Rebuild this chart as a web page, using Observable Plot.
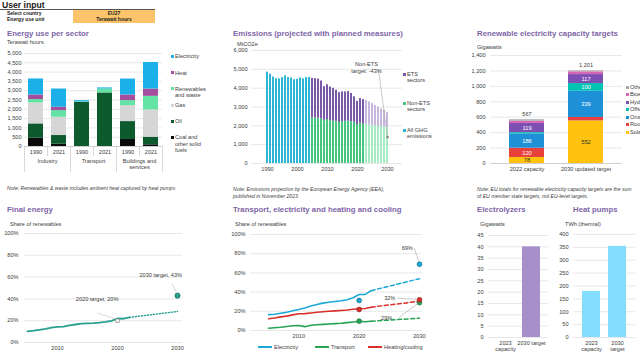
<!DOCTYPE html>
<html><head><meta charset="utf-8">
<script src="https://cdn.jsdelivr.net/npm/d3@7"></script>
<script src="https://cdn.jsdelivr.net/npm/@observablehq/plot@0.6"></script>
<style>
html,body{margin:0;padding:0;background:#fff;}
#root{position:relative;width:640px;height:360px;overflow:hidden;font-family:'Liberation Sans',Arial,Helvetica,sans-serif;color:#404040;}
.abs{position:absolute;white-space:pre;line-height:1.2;}
.sw{position:absolute;width:3px;height:3px;}
</style></head><body><div id="root"></div>
<script>
// ---------------- DATA ----------------
// User input
const inputCountry = "EU27";
const inputUnit = "Terawatt hours";

// Energy use per sector (TWh)
const energySectors = ["Industry", "Transport", "Buildings and services"];
const energyYears = ["1990", "2021"];
const fuelTypes = ["Coal and other solid fuels", "Oil", "Gas", "Renewables and waste", "Heat", "Electricity"];
const fuelColors = ["#0a0a0a", "#0c5a2e", "#d6d6d6", "#63e3a3", "#a44f9e", "#1cb0e8"];
const industry1990 = [446, 770, 1125, 180, 250, 860];
const industry2021 = [125, 465, 980, 360, 180, 980];
const transport1990 = [0, 2375, 0, 20, 0, 70];
const transport2021 = [0, 2880, 0, 210, 0, 60];
const buildings1990 = [375, 965, 857, 268, 305, 857];
const buildings2021 = [90, 410, 1466, 731, 393, 1428];
const energyTicks = [0, 500, 1000, 1500, 2000, 2500, 3000, 3500, 4000, 4500, 5000];

// Emissions (MtCO2e)
const emissionYears = [1990,1991,1992,1993,1994,1995,1996,1997,1998,1999,2000,2001,2002,2003,2004,2005,2006,2007,2008,2009,2010,2011,2012,2013,2014,2015,2016,2017,2018,2019,2020,2021,2022,2023,2024,2025,2026,2027,2028,2029,2030];
const emissionTotal = [4850,4740,4590,4500,4490,4560,4650,4560,4540,4450,4470,4530,4490,4560,4570,4520,4510,4480,4380,4080,4180,4060,3990,3890,3760,3800,3800,3820,3720,3540,3300,3450,3390,3350,3270,3180,3080,2990,2900,2830,2720];
const nonEtsFirstYear = 2005;
const projectedFirstYear = 2023;
const nonEts = [2420,2410,2400,2380,2300,2330,2280,2250,2240,2180,2220,2240,2250,2220,2190,2070,2140,2090,2060,2040,2020,2000,1980,1960,1950,1930];
const emissionCats = ["All GHG emissions", "Non-ETS sectors", "ETS sectors", "Non-ETS sectors (projected)", "ETS sectors (projected)"];
const emissionColors = ["#2cb5d4", "#44c680", "#7a5aa7", "#a7ebc2", "#c6b7df"];
const emissionTicks = [0, 1000, 2000, 3000, 4000, 5000, 6000];
const emissionYearTicks = [1990, 2000, 2010, 2020, 2030];
const nonEtsTarget = {year: 2030, value: 1400, label: "Non-ETS\ntarget: -43%", labelYear: 2023, labelValue: 5120, leaderYear: 2027, leaderValue: 4950};
const emissionLegend = [{label: "ETS\nsectors", color: "#7a5aa7"}, {label: "Non-ETS\nsectors", color: "#44c680"}, {label: "All GHG\nemissions", color: "#2cb5d4"}];

// Renewable electricity capacity targets (GW)
const capacityBars = ["2022 capacity", "2030 updated target"];
const techTypes = ["Solar", "Rooftop solar", "Onshore wind", "Offshore wind", "Hydropower", "Bioenergy", "Other"];
const techColors = ["#ffc30f", "#e8403a", "#1e90d8", "#00c3b3", "#7d4fb3", "#d667b8", "#a8a8a8"];
const techDarkLabel = [true, false, false, false, false, false, false];
const capacity2022 = [78, 120, 186, 16, 119, 30, 18];
const capacity2030 = [552, 45, 339, 100, 117, 35, 13];
const capacityTotals = [567, 1201];
const capacityTicks = [0, 200, 400, 600, 800, 1000, 1200, 1400];
const capacityLabelMin = 60;

// Final energy, share of renewables (%)
const finalYears = [2005,2006,2007,2008,2009,2010,2011,2012,2013,2014,2015,2016,2017,2018,2019,2020,2021,2022];
const finalShare = [10.2,10.8,11.6,12.4,13.6,14.3,14.5,15.7,16.5,17.3,17.6,17.8,18.2,18.9,19.8,22.0,21.8,23.0];
const finalProjYears = [2022, 2030];
const finalProjShare = [23.0, 28.5];
const finalTargets = [{year: 2020, value: 20, label: "2020 target, 20%"}, {year: 2030, value: 43, label: "2030 target, 43%"}];
const pctTicks = [0, 20, 40, 60, 80, 100];

// Transport, electricity, heating and cooling (%)
const sectorSeries = ["Electricity", "Transport", "Heating/cooling"];
const sectorColors = ["#1ca8d7", "#27a354", "#d8302b"];
const sectorDark = ["#0f6f90", "#17703a", "#8f1d1a"];
const shareYears = [2005,2006,2007,2008,2009,2010,2011,2012,2013,2014,2015,2016,2017,2018,2019,2020,2021,2022];
const shareElectricity = [16.5,17.0,18.0,19.0,20.5,21.9,23.5,25.5,27.0,28.5,29.5,30.2,31.0,32.0,34.2,37.5,37.6,41.5];
const shareTransport = [2.4,2.9,3.4,4.2,5.0,5.2,4.0,5.5,6.0,6.4,6.8,7.2,7.5,8.2,8.9,9.7,9.1,9.7];
const shareHeating = [12.2,13.0,14.2,15.0,16.3,17.4,17.6,18.3,19.0,19.6,20.0,20.4,20.8,21.3,22.1,22.6,22.9,24.3];
const shareProjYears = [2022, 2030];
const projElectricity = [41.5, 54.0];
const projTransport = [9.7, 12.8];
const projHeating = [24.3, 30.5];
const shareTargets2020 = [31.3, 9.7, 21.9];
const shareTargets2030 = [69, 29, 32];
const shareTargetLabels = [
  {label: "69%", x: 2028.9, y: 86, x1: 2029.1, y1: 86, x2: 2029.9, y2: 72},
  {label: "32%", x: 2026.0, y: 33.5, x1: 2026.3, y1: 33.5, x2: 2029.5, y2: 32.6},
  {label: "29%", x: 2025.5, y: 12.5, x1: 2026.6, y1: 13.5, x2: 2029.6, y2: 27.5}
];

// Electrolyzers (GW) and heat pumps (TWh thermal)
const electrolyzerBars = ["2023\ncapacity", "2030 target"];
const electrolyzerValues = [0, 40];
const electrolyzerTicks = [0, 5, 10, 15, 20, 25, 30, 35, 40, 45];
const heatPumpBars = ["2023\ncapacity", "2030\ntarget"];
const heatPumpValues = [179, 354];
const heatPumpTicks = [0, 50, 100, 150, 200, 250, 300, 350, 400];

// ---------------- HELPERS ----------------
const root = document.getElementById("root");
const FONT = "'Liberation Sans', Arial, Helvetica, sans-serif";
const TXT = "#404040";
const GRID = "#d9d9d9";
const TITLE = "#7e65a8";

function txt(content, x, yc, fs, extra = {}) {
  const d = document.createElement("div");
  d.className = "abs";
  d.style.left = x + "px";
  d.style.top = (yc - fs * 0.6) + "px";
  d.style.fontSize = fs + "px";
  Object.assign(d.style, extra);
  d.textContent = content;
  root.appendChild(d);
  return d;
}
function title(t, x, yc) { return txt(t, x, yc, 7.8, {color: TITLE, fontWeight: "bold"}); }
function sub(t, x, yc) { return txt(t, x, yc, 5.6, {color: TXT}); }
function note(t, x, yc) { return txt(t, x, yc, 5.1, {color: TXT, fontStyle: "italic", lineHeight: "7px"}); }
function swatch(x, yc, color, w = 3, h = 3) {
  const d = document.createElement("div");
  d.className = "sw";
  d.style.left = x + "px"; d.style.top = (yc - h / 2) + "px";
  d.style.width = w + "px"; d.style.height = h + "px";
  d.style.background = color;
  root.appendChild(d);
}
function chart(opts, x, y) {
  const svg = Plot.plot({
    ...opts,
    style: {fontFamily: FONT, fontSize: "5.6px", color: TXT, background: "transparent", overflow: "visible"}
  });
  svg.style.position = "absolute";
  svg.style.left = x + "px";
  svg.style.top = y + "px";
  root.appendChild(svg);
  return svg;
}
const grid = ticks => Plot.gridY(ticks, {stroke: GRID, strokeOpacity: 1, strokeWidth: 0.6});

// ---------------- USER INPUT ----------------
txt("User input", 2, 5.5, 8.6, {fontWeight: "bold", color: "#1a1a1a"});
(() => { const d = document.createElement("div"); Object.assign(d.style, {position: "absolute", left: "0px", top: "9px", width: "155px", height: "1.3px", background: "#555"}); root.appendChild(d); })();
(() => { const d = document.createElement("div"); Object.assign(d.style, {position: "absolute", left: "73px", top: "10.3px", width: "82px", height: "12.7px", background: "#fbc46b"}); root.appendChild(d); })();
txt("Select country", 7, 13.3, 5, {fontWeight: "bold", color: "#222"});
txt("Energy use unit", 7, 19.3, 5, {fontWeight: "bold", color: "#222"});
txt(inputCountry, 73, 13.3, 5, {fontWeight: "bold", color: "#222", width: "82px", textAlign: "center"});
txt(inputUnit, 73, 19.3, 5, {fontWeight: "bold", color: "#222", width: "82px", textAlign: "center"});

// ---------------- ENERGY USE PER SECTOR ----------------
title("Energy use per sector", 7, 34);
sub("Terawatt hours", 7, 42.5);
{
  const keys = [];
  energySectors.forEach(s => energyYears.forEach(y => keys.push(s + "|" + y)));
  const bars = [industry1990, industry2021, transport1990, transport2021, buildings1990, buildings2021];
  const rows = [];
  keys.forEach((k, i) => fuelTypes.forEach((t, j) => rows.push({key: k, type: t, value: bars[i][j]})));
  const W = 225, ML = 24, MR = 63, MT = 5, MB = 42, H = 140;
  const step = (W - ML - MR) / keys.length;
  const fh = H - MT - MB;
  chart({
    width: W, height: H, marginLeft: ML, marginRight: MR, marginTop: MT, marginBottom: MB,
    x: {domain: keys, paddingInner: 0.34, paddingOuter: 0.17, axis: null},
    y: {domain: [0, 5000], axis: null},
    color: {domain: fuelTypes, range: fuelColors},
    marks: [
      grid(energyTicks),
      Plot.barY(rows, {x: "key", y: "value", fill: "type", order: fuelTypes}),
      Plot.ruleY([0], {stroke: "#bfbfbf", strokeWidth: 0.6}),
      Plot.axisY(energyTicks, {tickSize: 0, tickPadding: 3, tickFormat: d3.format(","), label: null}),
      Plot.axisX(keys, {tickSize: 0, tickPadding: 4, tickFormat: k => k.split("|")[1], label: null}),
      Plot.ruleX(keys.filter((k, i) => i % 2 === 0), {x: d => d, dx: -step / 2, insetTop: fh, insetBottom: -26, stroke: "#bfbfbf", strokeWidth: 0.6}),
      Plot.ruleX(keys.filter((k, i) => i === keys.length - 1), {x: d => d, dx: step / 2, insetTop: fh, insetBottom: -26, stroke: "#bfbfbf", strokeWidth: 0.6}),
      Plot.ruleX(keys.filter((k, i) => i % 2 === 1), {x: d => d, dx: -step / 2, insetTop: fh, insetBottom: -10, stroke: "#bfbfbf", strokeWidth: 0.6}),
      Plot.text(energySectors, {x: s => s + "|" + energyYears[1], dx: -step / 2, frameAnchor: "bottom", dy: 13, lineAnchor: "top", lineWidth: 9, text: d => d, fill: TXT})
    ]
  }, 0, 48);
  // legend (top = Electricity)
  fuelTypes.slice().reverse().forEach((t, i) => {
    const yc = 56.5 + i * 16.2;
    swatch(171, yc, fuelColors[fuelTypes.length - 1 - i]);
    txt(t, 175, yc, 5.6, {whiteSpace: "normal", width: "34px", lineHeight: "6.4px", top: (yc - 3.2) + "px"});
  });
}
note("Note: Renewables & waste includes ambient heat captured by heat pumps", 7, 188.5);

// ---------------- EMISSIONS ----------------
title("Emissions (projected with planned measures)", 233, 34);
sub("MtCO2e", 237, 44.3);
{
  const rows = [];
  emissionYears.forEach((yr, i) => {
    if (yr < nonEtsFirstYear) rows.push({year: yr, cat: emissionCats[0], value: emissionTotal[i]});
    else {
      const ne = nonEts[yr - nonEtsFirstYear];
      const proj = yr >= projectedFirstYear;
      rows.push({year: yr, cat: proj ? emissionCats[3] : emissionCats[1], value: ne});
      rows.push({year: yr, cat: proj ? emissionCats[4] : emissionCats[2], value: emissionTotal[i] - ne});
    }
  });
  chart({
    width: 185, height: 135, marginLeft: 23, marginRight: 11, marginTop: 10, marginBottom: 12,
    x: {domain: emissionYears, padding: 0.42, axis: null},
    y: {domain: [0, 6000], axis: null},
    color: {domain: emissionCats, range: emissionColors},
    marks: [
      grid(emissionTicks),
      Plot.barY(rows, {x: "year", y: "value", fill: "cat", order: emissionCats}),
      Plot.axisY(emissionTicks, {tickSize: 0, tickPadding: 4, tickFormat: d3.format(","), label: null}),
      Plot.axisX(emissionYearTicks, {tickSize: 0, tickPadding: 4, tickFormat: d => String(d), label: null}),
      Plot.link([nonEtsTarget], {x1: "leaderYear", y1: "leaderValue", x2: "year", y2: "value", stroke: "#a6a6a6", strokeWidth: 0.6}),
      Plot.dot([nonEtsTarget], {x: "year", y: "value", r: 1.3, fill: "#8c8c8c"}),
      Plot.text([nonEtsTarget], {x: "labelYear", y: "labelValue", text: "label", fill: TXT, lineHeight: 1.2})
    ]
  }, 228, 40);
  const ys = [74, 103, 130];
  emissionLegend.forEach((e, i) => {
    swatch(403, ys[i], e.color);
    txt(e.label, 407, ys[i], 5.6, {lineHeight: "6.6px", top: (ys[i] - 3.3) + "px"});
  });
}
note("Note: Emissions projection by the European Energy Agency (EEA),\npublished in November 2023.", 233, 189);

// ---------------- RENEWABLE CAPACITY ----------------
title("Renewable electricity capacity targets", 477, 34);
sub("Gigawatts", 477, 47.5);
{
  const rows = [];
  [capacity2022, capacity2030].forEach((vals, i) => techTypes.forEach((t, j) => {
    const show = vals[j] >= capacityLabelMin;
    rows.push({bar: capacityBars[i], type: t, value: vals[j], white: show && !techDarkLabel[j], dark: show && techDarkLabel[j]});
  }));
  const totals = capacityBars.map((b, i) => ({bar: b, total: capacityTotals[i]}));
  chart({
    width: 180, height: 135, marginLeft: 30, marginRight: 18, marginTop: 15, marginBottom: 12,
    x: {domain: capacityBars, paddingInner: 0.4, paddingOuter: 0.3, axis: null},
    y: {domain: [0, 1400], axis: null},
    color: {domain: techTypes, range: techColors},
    marks: [
      grid(capacityTicks),
      Plot.barY(rows, {x: "bar", y: "value", fill: "type", order: techTypes}),
      Plot.text(rows, Plot.stackY({x: "bar", y: "value", z: "type", order: techTypes, text: d => d.white ? String(d.value) : "", fill: "white", fontSize: 5.8})),
      Plot.text(rows, Plot.stackY({x: "bar", y: "value", z: "type", order: techTypes, text: d => d.dark ? String(d.value) : "", fill: "#333", fontSize: 5.8})),
      Plot.text(totals, {x: "bar", y: "total", text: d => d3.format(",")(d.total), dy: -6, fill: TXT}),
      Plot.axisY(capacityTicks, {tickSize: 0, tickPadding: 5, tickFormat: d3.format(","), label: null}),
      Plot.axisX(capacityBars, {tickSize: 0, tickPadding: 4, label: null}),
      Plot.ruleY([0], {stroke: "#bfbfbf", strokeWidth: 0.6})
    ]
  }, 460, 40);
  techTypes.slice().reverse().forEach((t, i) => {
    const yc = 87 + i * 7.5;
    swatch(626, yc, techColors[techTypes.length - 1 - i]);
    txt(t, 630, yc, 5.6);
  });
}
note("Note: EU totals for renewable electricity capacity targets are the sum\nof EU member state targets, not EU-level targets.", 477, 189);

// ---------------- FINAL ENERGY ----------------
title("Final energy", 7, 210);
sub("Share of renewables", 10, 224);
{
  const TEAL = "#28a090";
  const hist = finalYears.map((y, i) => ({year: y, v: finalShare[i]}));
  const proj = finalProjYears.map((y, i) => ({year: y, v: finalProjShare[i]}));
  const ann = [
    {t: finalTargets[0].label, x: 2016.6, y: 40, x1: 2016.6, y1: 27, x2: 2019.5, y2: 22},
    {t: finalTargets[1].label, x: 2027.2, y: 62, x1: 2029.1, y1: 54, x2: 2029.8, y2: 46}
  ];
  chart({
    width: 230, height: 132, marginLeft: 24, marginRight: 48, marginTop: 5, marginBottom: 18,
    x: {domain: [2004.5, 2030.83], axis: null},
    y: {domain: [0, 100], axis: null},
    marks: [
      grid(pctTicks),
      Plot.axisY(pctTicks, {tickSize: 0, tickPadding: 6, tickFormat: d => d + "%", label: null}),
      Plot.axisX([2010, 2020, 2030], {tickSize: 0, tickPadding: 4, tickFormat: d => String(d), label: null}),
      Plot.line(hist, {x: "year", y: "v", stroke: TEAL, strokeWidth: 1.8}),
      Plot.line(proj, {x: "year", y: "v", stroke: TEAL, strokeWidth: 1.4, strokeDasharray: "1.1,1.9"}),
      Plot.link(ann, {x1: "x1", y1: "y1", x2: "x2", y2: "y2", stroke: "#bfbfbf", strokeWidth: 0.6}),
      Plot.text(ann, {x: "x", y: "y", text: "t", fill: TXT}),
      Plot.dot([finalTargets[0]], {x: "year", y: "value", symbol: "square", r: 2, fill: "white", stroke: "#7f7f7f", strokeWidth: 0.7}),
      Plot.dot([finalTargets[1]], {x: "year", y: "value", r: 2.6, fill: TEAL, stroke: "#1b6b60", strokeWidth: 0.7})
    ]
  }, 0, 228);
}

// ---------------- TRANSPORT / ELECTRICITY / HEATING ----------------
title("Transport, electricity and heating and cooling", 233, 210);
sub("Share of renewables", 235, 224);
{
  const histVals = [shareElectricity, shareTransport, shareHeating];
  const projVals = [projElectricity, projTransport, projHeating];
  const hist = [], proj = [], t2020 = [], t2030 = [];
  sectorSeries.forEach((s, k) => {
    shareYears.forEach((y, i) => hist.push({s, year: y, v: histVals[k][i]}));
    shareProjYears.forEach((y, i) => proj.push({s, year: y, v: projVals[k][i]}));
    t2020.push({s, k, year: 2020, v: shareTargets2020[k]});
    t2030.push({s, k, year: 2030, v: shareTargets2030[k]});
  });
  chart({
    width: 200, height: 114, marginLeft: 22, marginRight: 6, marginTop: 6, marginBottom: 12,
    x: {domain: [2002, 2030.5], axis: null},
    y: {domain: [0, 100], axis: null},
    color: {domain: sectorSeries, range: sectorColors},
    marks: [
      grid(pctTicks),
      Plot.axisY(pctTicks, {tickSize: 0, tickPadding: 5, tickFormat: d => d + "%", label: null}),
      Plot.axisX([2010, 2020, 2030], {tickSize: 0, tickPadding: 4, tickFormat: d => String(d), label: null}),
      Plot.line(hist, {x: "year", y: "v", z: "s", stroke: "s", strokeWidth: 1.6}),
      Plot.line(proj, {x: "year", y: "v", z: "s", stroke: "s", strokeWidth: 1.5, strokeDasharray: "4,2.6"}),
      Plot.link(shareTargetLabels, {x1: "x1", y1: "y1", x2: "x2", y2: "y2", stroke: "#a6a6a6", strokeWidth: 0.6}),
      Plot.text(shareTargetLabels, {x: "x", y: "y", text: "label", textAnchor: "end", fill: TXT}),
      Plot.dot(t2020, {x: "year", y: "v", r: 2.4, fill: "s", stroke: d => sectorDark[d.k], strokeWidth: 0.7}),
      Plot.dot(t2030, {x: "year", y: "v", r: 2.4, fill: "s", stroke: d => sectorDark[d.k], strokeWidth: 0.7})
    ]
  }, 228, 228);
  const lx = [258, 315, 368];
  sectorSeries.forEach((s, k) => {
    swatch(lx[k], 347, sectorColors[k], 14, 1.6);
    txt(s, lx[k] + 16, 347, 5.6);
  });
}

// ---------------- ELECTROLYZERS ----------------
title("Electrolyzers", 477, 210);
sub("Gigawatts", 480, 224);
chart({
  width: 90, height: 130, marginLeft: 28, marginRight: 2, marginTop: 7, marginBottom: 21,
  x: {domain: electrolyzerBars, padding: 0.3, axis: null},
  y: {domain: [0, 45], axis: null},
  marks: [
    grid(electrolyzerTicks),
    Plot.barY(electrolyzerBars.map((b, i) => ({b, v: electrolyzerValues[i]})), {x: "b", y: "v", fill: "#a68fcb"}),
    Plot.axisY(electrolyzerTicks, {tickSize: 0, tickPadding: 5, label: null}),
    Plot.axisX(electrolyzerBars, {tickSize: 0, tickPadding: 4, label: null, lineAnchor: "top"})
  ]
}, 460, 228);

// ---------------- HEAT PUMPS ----------------
title("Heat pumps", 573, 210);
sub("TWh (thermal)", 565, 224);
chart({
  width: 90, height: 130, marginLeft: 23, marginRight: 5, marginTop: 6, marginBottom: 21,
  x: {domain: heatPumpBars, padding: 0.3, axis: null},
  y: {domain: [0, 400], axis: null},
  marks: [
    grid(heatPumpTicks),
    Plot.barY(heatPumpBars.map((b, i) => ({b, v: heatPumpValues[i]})), {x: "b", y: "v", fill: "#82defc"}),
    Plot.axisY(heatPumpTicks, {tickSize: 0, tickPadding: 5, label: null}),
    Plot.axisX(heatPumpBars, {tickSize: 0, tickPadding: 4, label: null, lineAnchor: "top"})
  ]
}, 550, 228);
</script></body></html>
